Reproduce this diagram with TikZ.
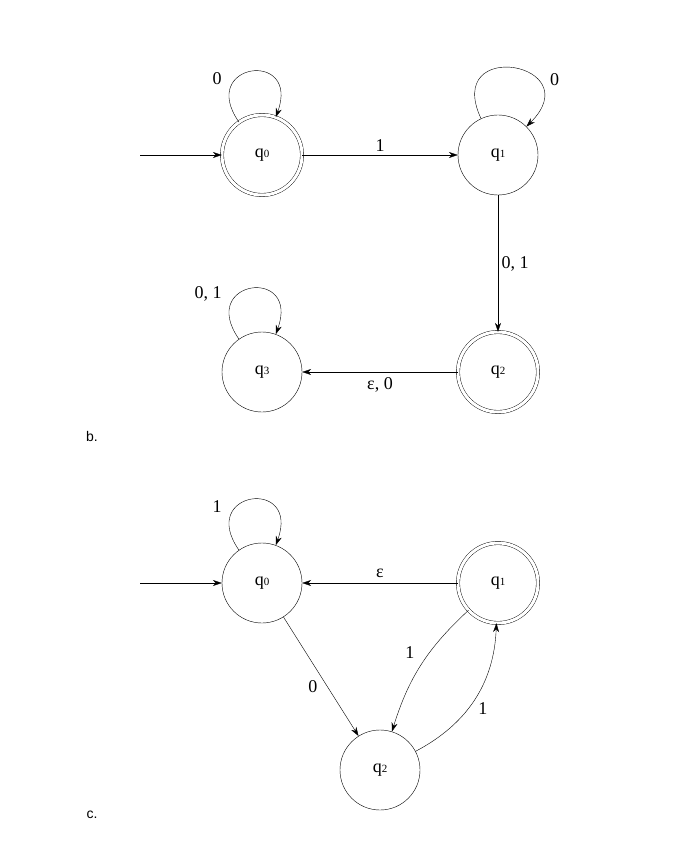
\documentclass[tikz,border=0pt]{standalone}
\usepackage{fontspec}
\setmainfont{Liberation Serif}
\newfontfamily\lsans{Liberation Sans}
\newfontfamily\lserif{Liberation Serif}
\usetikzlibrary{arrows.meta}
\begin{document}
\begin{tikzpicture}[x=1pt,y=-1pt,
  st/.style={circle,draw,minimum size=80pt,inner sep=0pt,font=\lserif\fontsize{18}{18}\selectfont},
  acc/.style={st,double,double distance=3pt},
  lab/.style={font=\lserif\fontsize{18}{18}\selectfont},
  sub/.style={font=\lsans\fontsize{14}{14}\selectfont},
  lp/.style={looseness=5,min distance=45pt},
  >={Stealth[length=9pt,width=6pt]}, every path/.style={thin}]
\useasboundingbox (0,0) rectangle (693,842);
\newcommand{\qq}[1]{q\raisebox{0pt}{\fontsize{11}{11}\selectfont #1}}
% b
\node[acc] (b0) at (262,155) {\qq0};
\node[st] (b1) at (498,155) {\qq1};
\node[acc] (b2) at (498,372) {\qq2};
\node[st] (b3) at (262,372) {\qq3};
\coordinate (bi) at (140,155);
\draw[->] (bi) -- (b0);
\draw[->] (b0) to[out=125,in=70,lp] node[lab,pos=0.2,above left=4pt] {0} (b0);
\draw[->] (b1) to[out=115,in=45,lp] node[lab,pos=0.8,above right=4pt] {0} (b1);
\draw[->] (b3) to[out=125,in=70,lp] node[lab,pos=0.2,above left=4pt] {0, 1} (b3);
\draw[->] (b0) -- node[lab,above] {1} (b1);
\draw[->] (b1) -- node[lab,right] {0, 1} (b2);
\draw[->] (b2) -- node[lab,below=2pt] {ε, 0} (b3);
\node[sub] (lb) at (92,436) {b.};
% c
\node[st] (c0) at (262,583) {\qq0};
\node[acc] (c1) at (498,583) {\qq1};
\node[st] (c2) at (380,770) {\qq2};
\coordinate (ci) at (140,583);
\draw[->] (ci) -- (c0);
\draw[->] (c0) to[out=125,in=70,lp] node[lab,pos=0.2,above left=4pt] {1} (c0);
\draw[->] (c1) -- node[lab,above=2pt] {ε} (c0);
\draw[->] (c0) -- node[lab,below left] {0} (c2);
\draw[->] (c1) to[bend right=15] node[lab,above left=3pt] {1} (c2);
\draw[->] (c2) to[bend right=30] node[lab,below right] {1} (c1);
\node[sub] (lc) at (92,815) {c.};
\end{tikzpicture}
\end{document}
